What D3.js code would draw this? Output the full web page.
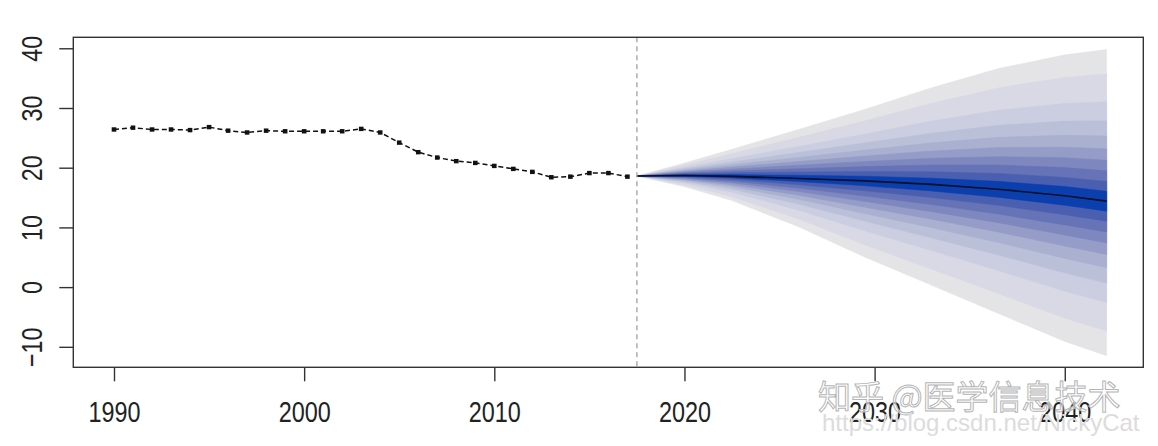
<!DOCTYPE html>
<html>
<head>
<meta charset="utf-8">
<script src="https://cdn.jsdelivr.net/npm/d3@7"></script>
<style>
  html, body { margin: 0; padding: 0; background: #fff; }
  svg { display: block; }
</style>
</head>
<body>
<svg id="chart" width="1158" height="446"></svg>
<script>
// ---- data ----
const obsYears = d3.range(1990, 2018);
const obsValues = [26.4, 26.7, 26.4, 26.4, 26.3, 26.8, 26.2, 25.9, 26.2, 26.1,
                   26.1, 26.1, 26.1, 26.5, 25.9, 24.2, 22.6, 21.7, 21.1, 20.8,
                   20.3, 19.8, 19.3, 18.4, 18.5, 19.1, 19.1, 18.5];
const forecastStart = 2017.5;
const fanYears   = [2017.5, 2020, 2022.5, 2026, 2029.5, 2033, 2036.5, 2040, 2042.2];
const fanMedian  = [18.6, 18.7, 18.55, 18.2, 17.8, 17.2, 16.4, 15.3, 14.4];
const fanUpper   = [18.6, 20.8, 23.1, 26.4, 29.8, 33.4, 36.6, 38.9, 39.8];
const fanLower   = [18.6, 16.8, 14.5, 10.1, 5.0, 0.3, -4.4, -9.1, -11.5];
// relative widths of band edges (inner to outer), read at the right edge
const bandFractions = [0.065, 0.13, 0.20, 0.27, 0.345, 0.43, 0.53, 0.655, 0.84, 1.0];
const bandColors = ["#0b3fae", "#4a5fb0", "#6673b6", "#7e88bf", "#949cc7",
                    "#a9b0d0", "#bbc0d9", "#cbcee0", "#d8d9e4", "#e4e4e6"];
const xTicks = [1990, 2000, 2010, 2020, 2030, 2040];
const yTicks = [-10, 0, 10, 20, 30, 40];

// ---- layout ----
const svg = d3.select("#chart");
const L = 73.3, R = 1143.3, T = 37.3, B = 367.3;
const x = d3.scaleLinear().domain([1987.86, 2044.13]).range([L, R]);
const y = d3.scaleLinear().domain([-13.43, 41.84]).range([B, T]);
const FONT = "'Liberation Sans', Arial, sans-serif";

// fan bands (outer first)
const fanData = fanYears.map((yr, i) => ({yr, m: fanMedian[i], u: fanUpper[i], l: fanLower[i]}));
for (let b = bandFractions.length - 1; b >= 0; b--) {
  const f = bandFractions[b];
  const area = d3.area()
    .x(d => x(d.yr))
    .y0(d => y(d.m - f * (d.m - d.l)))
    .y1(d => y(d.m + f * (d.u - d.m)));
  svg.append("path").datum(fanData).attr("d", area)
    .attr("fill", bandColors[b]).attr("stroke", bandColors[b]).attr("stroke-width", 0.5);
}
// median line
svg.append("path").datum(fanData)
  .attr("d", d3.line().x(d => x(d.yr)).y(d => y(d.m)))
  .attr("fill", "none").attr("stroke", "#0a0f2a").attr("stroke-width", 1.6);

// vertical dashed line
svg.append("line")
  .attr("x1", x(forecastStart)).attr("x2", x(forecastStart))
  .attr("y1", T).attr("y2", B)
  .attr("stroke", "#a0a0a0").attr("stroke-width", 1.3)
  .attr("stroke-dasharray", "5,4");

// observed
const obs = obsYears.map((yr, i) => ({yr, v: obsValues[i]}));
svg.append("path").datum(obs)
  .attr("d", d3.line().x(d => x(d.yr)).y(d => y(d.v)))
  .attr("fill", "none").attr("stroke", "#111").attr("stroke-width", 1.5)
  .attr("stroke-dasharray", "5,3");
svg.selectAll("rect.pt").data(obs).enter().append("rect")
  .attr("class", "pt")
  .attr("x", d => x(d.yr) - 2.3).attr("y", d => y(d.v) - 2.2)
  .attr("width", 4.6).attr("height", 4.4)
  .attr("fill", "#111");

// box
svg.append("rect").attr("x", L).attr("y", T).attr("width", R - L).attr("height", B - T)
  .attr("fill", "none").attr("stroke", "#333").attr("stroke-width", 1.4);

// axes
const gx = svg.append("g").attr("transform", `translate(0,${B})`)
  .call(d3.axisBottom(x).tickValues(xTicks).tickSize(14).tickFormat(d3.format("d")));
const gy = svg.append("g").attr("transform", `translate(${L},0)`)
  .call(d3.axisLeft(y).tickValues(yTicks).tickSize(14).tickFormat(d3.format("d")));
[gx, gy].forEach(g => {
  g.select(".domain").remove();
  g.selectAll(".tick line").attr("stroke", "#333").attr("stroke-width", 1.4);
  g.selectAll(".tick text").attr("fill", "#222").attr("font-family", FONT)
    .attr("font-size", 30).attr("x", null).attr("y", null).attr("dy", null)
    .attr("text-anchor", "middle");
});
gx.selectAll(".tick text").attr("transform", "translate(0,55) scale(0.78,1)");
gy.selectAll(".tick text").attr("transform", "translate(-31.5,0) rotate(-90) scale(0.78,1)");

// watermark (overlaps the axis labels as in the original image)
svg.append("text").attr("x", 818).attr("y", 409)
  .attr("font-family", "'Noto Sans CJK SC', sans-serif").attr("font-size", 33)
  .attr("fill", "rgba(255,255,255,0.65)").attr("stroke", "#b5b5b5").attr("stroke-width", 1)
  .text("知乎 @医学信息技术");
svg.append("text").attr("x", 822).attr("y", 431)
  .attr("font-family", FONT).attr("font-size", 24)
  .attr("fill", "#dcdcdc")
  .text("https://blog.csdn.net/NickyCat");
</script>
</body>
</html>
